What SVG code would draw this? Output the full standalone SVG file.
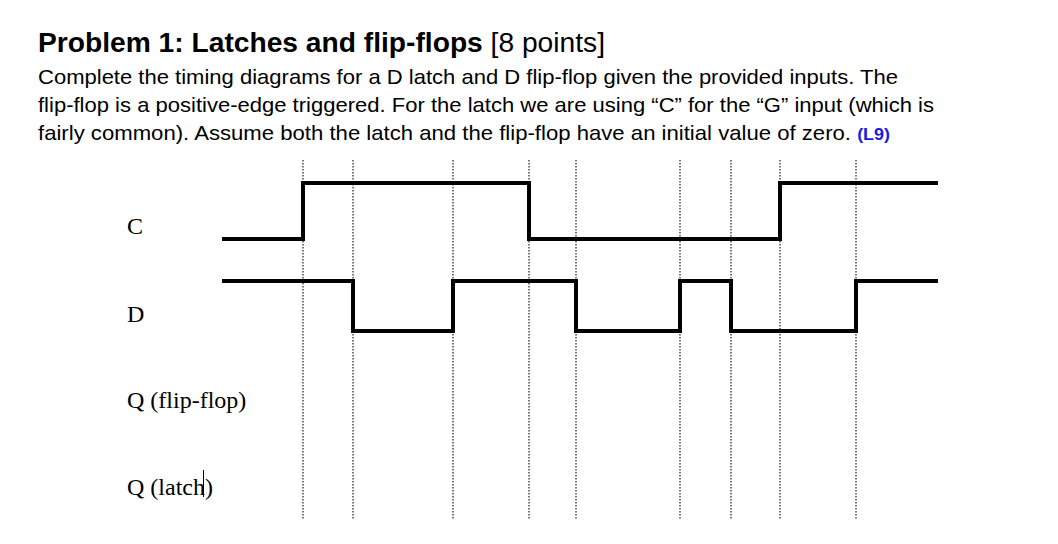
<svg xmlns="http://www.w3.org/2000/svg" width="1058" height="544" viewBox="0 0 1058 544">
<style>
.t{font-family:"Liberation Sans",Arial,sans-serif;fill:#000}
.lbl{font-family:"Liberation Serif","Times New Roman",serif;font-size:24px;fill:#000}
.g{stroke:#555;stroke-width:1.6;stroke-dasharray:1.5 1.5;fill:none}
.w{stroke:#000;stroke-width:4;fill:none;stroke-linejoin:miter}
</style>
<rect width="1058" height="544" fill="#fff"/>
<g id="header">
<text class="t" x="38" y="52" font-size="27" textLength="567" lengthAdjust="spacingAndGlyphs"><tspan font-weight="bold">Problem 1: Latches and flip-flops</tspan> [8 points]</text>
<text class="t" x="38" y="84" font-size="21" textLength="860" lengthAdjust="spacingAndGlyphs">Complete the timing diagrams for a D latch and D flip-flop given the provided inputs. The</text>
<text class="t" x="38" y="112" font-size="21" textLength="896" lengthAdjust="spacingAndGlyphs">flip-flop is a positive-edge triggered. For the latch we are using “C” for the “G” input (which is</text>
<text class="t" x="38" y="140" font-size="21" textLength="852" lengthAdjust="spacingAndGlyphs">fairly common). Assume both the latch and the flip-flop have an initial value of zero. <tspan fill="#1a1ae6" font-weight="bold" font-size="17">(L9)</tspan></text>
</g>
<g id="gridlines">
<line class="g" x1="303" y1="160" x2="303" y2="520"/>
<line class="g" x1="353" y1="160" x2="353" y2="520"/>
<line class="g" x1="453" y1="160" x2="453" y2="520"/>
<line class="g" x1="529" y1="160" x2="529" y2="520"/>
<line class="g" x1="576" y1="160" x2="576" y2="520"/>
<line class="g" x1="680" y1="160" x2="680" y2="520"/>
<line class="g" x1="731" y1="160" x2="731" y2="520"/>
<line class="g" x1="780" y1="160" x2="780" y2="520"/>
<line class="g" x1="856" y1="160" x2="856" y2="520"/>
</g>
<g id="C">
<text class="lbl" x="127" y="234">C</text>
<polyline class="w" points="222,239 303,239 303,183 529,183 529,239 780,239 780,183 938,183"/>
</g>
<g id="D">
<text class="lbl" x="127" y="322">D</text>
<polyline class="w" points="222,281 353,281 353,331 453,331 453,281 576,281 576,331 680,331 680,281 731,281 731,331 856,331 856,281 938,281"/>
</g>
<g id="Qff">
<text class="lbl" x="127" y="408">Q (flip-flop)</text>
</g>
<g id="Qlatch">
<text class="lbl" x="127" y="495">Q (latch)</text>
<line x1="203.5" y1="470" x2="203.5" y2="497" stroke="#000" stroke-width="1"/>
</g>
</svg>
